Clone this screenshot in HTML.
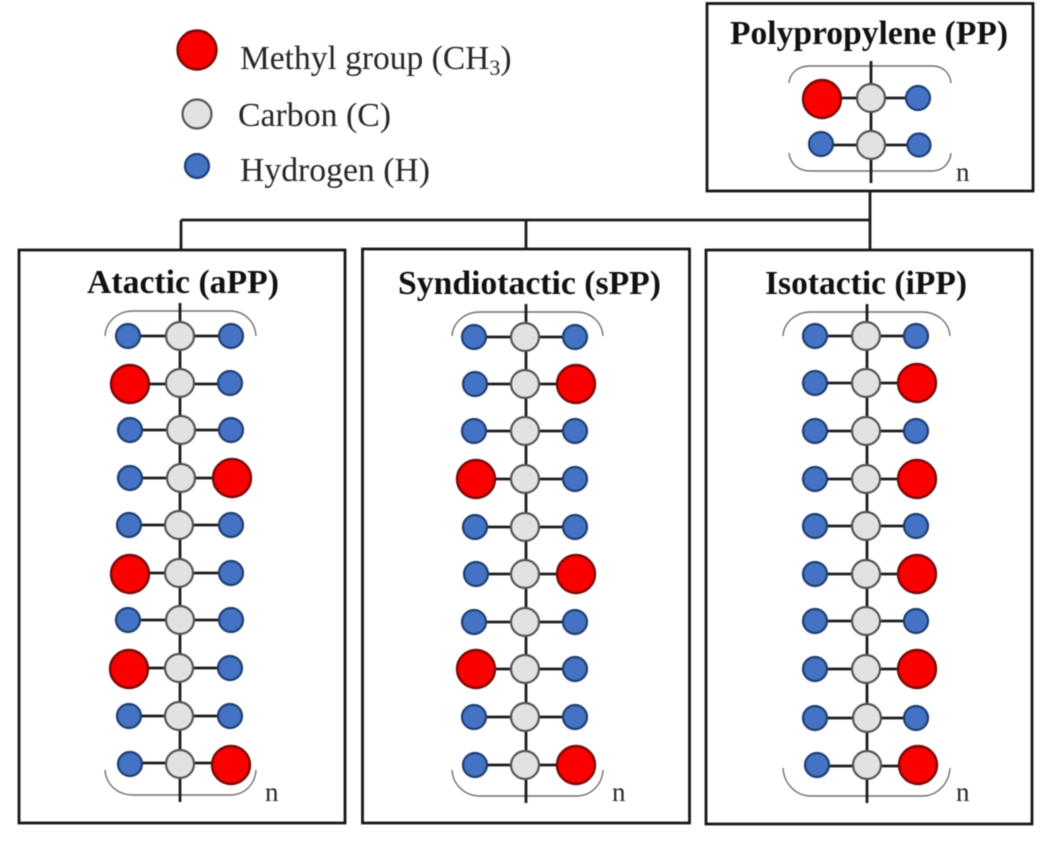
<!DOCTYPE html>
<html>
<head>
<meta charset="utf-8">
<style>
html,body{margin:0;padding:0;background:#fff;width:1052px;height:842px;overflow:hidden}
svg{display:block;filter:blur(.5px)}
.box{fill:none;stroke:#161616;stroke-width:2.8}
.ln{stroke:#1c1c1c;stroke-width:2.8;fill:none}
.br{stroke:#6f6f6f;stroke-width:1.4;fill:none}
.H{fill:#4472c4;stroke:#1f3f72;stroke-width:2.2}
.C{fill:#e2e2e2;stroke:#555;stroke-width:2.2}
.M{fill:#fa0000;stroke:#7a0808;stroke-width:2.4}
text{font-family:"Liberation Serif",serif;fill:#1a1a1a}
.t{font-weight:bold;font-size:33.5px;fill:#111}
.l{font-size:33.5px;fill:#262626}
.n{font-size:27px;fill:#2a2a2a}
</style>
</head>
<body>
<svg width="1052" height="842" viewBox="0 0 1052 842" xmlns="http://www.w3.org/2000/svg">
<!-- connectors -->
<path class="ln" d="M181 220H870M181 220V250M526 220V249M870 191V250"/>
<!-- boxes -->
<rect class="box" x="707" y="3.5" width="326" height="187.5"/>
<rect class="box" x="19" y="250" width="326" height="573"/>
<rect class="box" x="362.5" y="249" width="327" height="574"/>
<rect class="box" x="706" y="250" width="326" height="574"/>
<!-- titles -->
<text class="t" x="730" y="44" textLength="278" lengthAdjust="spacingAndGlyphs">Polypropylene (PP)</text>
<text class="t" x="87" y="293" textLength="192" lengthAdjust="spacingAndGlyphs">Atactic (aPP)</text>
<text class="t" x="398" y="294" textLength="263" lengthAdjust="spacingAndGlyphs">Syndiotactic (sPP)</text>
<text class="t" x="765" y="294" textLength="202" lengthAdjust="spacingAndGlyphs">Isotactic (iPP)</text>
<!-- legend -->
<circle class="M" cx="197" cy="50" r="19.5"/>
<circle class="C" cx="197" cy="114" r="14.5"/>
<circle class="H" cx="197" cy="166" r="12"/>
<text class="l" x="240" y="69">Methyl group (CH<tspan font-size="22" dy="6">3</tspan><tspan dy="-6">)</tspan></text>
<text class="l" x="238" y="126" textLength="153" lengthAdjust="spacingAndGlyphs">Carbon (C)</text>
<text class="l" x="240" y="181" textLength="190" lengthAdjust="spacingAndGlyphs">Hydrogen (H)</text>
<!-- top molecule -->
<path class="br" d="M789 83C790 72 799 66 810 66H932C942 66 950 72 951 83"/>
<path class="br" d="M789 153C790 164 799 171 810 171H932C942 171 950 164 951 153"/>
<path class="ln" d="M871 61V183M822 98H918M821 145H919"/>
<circle class="M" cx="822" cy="99" r="19"/><circle class="C" cx="871" cy="98" r="14"/><circle class="H" cx="918" cy="98" r="12"/>
<circle class="H" cx="821" cy="144" r="12"/><circle class="C" cx="871" cy="145" r="14"/><circle class="H" cx="919" cy="145" r="11.5"/>
<text class="n" x="956" y="181">n</text>
<!-- atactic -->
<path class="br" d="M105 336C106 321 118 311 133 311H230C244 311 255 321 256 336"/>
<path class="br" d="M105 770C106 785 118 795 133 795H230C244 795 255 785 256 770"/>
<path class="ln" d="M180 303V802M128 336H231M130 384H230M130 430H231M130 478H232M129 525H231M130 573H231M128 620H231M129 668H230M129 716H230M130 763H231"/>
<circle class="H" cx="128" cy="336" r="12"/><circle class="C" cx="180" cy="336" r="14"/><circle class="H" cx="231" cy="336" r="12"/>
<circle class="M" cx="130" cy="384" r="19"/><circle class="C" cx="180" cy="383" r="14"/><circle class="H" cx="230" cy="383" r="12"/>
<circle class="H" cx="130" cy="430" r="12"/><circle class="C" cx="181" cy="430" r="14"/><circle class="H" cx="231" cy="430" r="12"/>
<circle class="H" cx="130" cy="478" r="12"/><circle class="C" cx="181" cy="478" r="14"/><circle class="M" cx="232" cy="478" r="19"/>
<circle class="H" cx="129" cy="525" r="12"/><circle class="C" cx="179" cy="525" r="14"/><circle class="H" cx="231" cy="525" r="12"/>
<circle class="M" cx="130" cy="574" r="19"/><circle class="C" cx="179" cy="573" r="14"/><circle class="H" cx="231" cy="573" r="12"/>
<circle class="H" cx="128" cy="620" r="12"/><circle class="C" cx="180" cy="620" r="14"/><circle class="H" cx="231" cy="620" r="12"/>
<circle class="M" cx="129" cy="669" r="19"/><circle class="C" cx="179" cy="668" r="14"/><circle class="H" cx="230" cy="668" r="12"/>
<circle class="H" cx="129" cy="716" r="12"/><circle class="C" cx="179" cy="716" r="14"/><circle class="H" cx="230" cy="716" r="12"/>
<circle class="H" cx="130" cy="764" r="12"/><circle class="C" cx="180" cy="764" r="14"/><circle class="M" cx="231" cy="765" r="19"/>
<text class="n" x="265" y="801">n</text>
<!-- syndiotactic -->
<path class="br" d="M452 336C453 322 465 312 480 312H576C591 312 602 322 603 336"/>
<path class="br" d="M452 770C453 785 465 796 480 796H576C591 796 602 785 603 770"/>
<path class="ln" d="M526 304V803M474 337H575M475 384H576M474 431H575M476 479H575M475 527H575M476 574H576M474 622H575M476 669H575M474 717H575M475 765H576"/>
<circle class="H" cx="474" cy="337" r="12"/><circle class="C" cx="525" cy="337" r="14"/><circle class="H" cx="575" cy="337" r="12"/>
<circle class="H" cx="475" cy="384" r="12"/><circle class="C" cx="525" cy="384" r="14"/><circle class="M" cx="576" cy="384" r="19"/>
<circle class="H" cx="474" cy="431" r="12"/><circle class="C" cx="525" cy="431" r="14"/><circle class="H" cx="575" cy="431" r="12"/>
<circle class="M" cx="476" cy="479" r="19"/><circle class="C" cx="525" cy="479" r="14"/><circle class="H" cx="575" cy="479" r="12"/>
<circle class="H" cx="475" cy="527" r="12"/><circle class="C" cx="525" cy="527" r="14"/><circle class="H" cx="575" cy="527" r="12"/>
<circle class="H" cx="476" cy="574" r="12"/><circle class="C" cx="525" cy="574" r="14"/><circle class="M" cx="576" cy="574" r="19"/>
<circle class="H" cx="474" cy="622" r="12"/><circle class="C" cx="525" cy="622" r="14"/><circle class="H" cx="575" cy="622" r="12"/>
<circle class="M" cx="476" cy="669" r="19"/><circle class="C" cx="525" cy="669" r="14"/><circle class="H" cx="575" cy="669" r="12"/>
<circle class="H" cx="474" cy="717" r="12"/><circle class="C" cx="525" cy="717" r="14"/><circle class="H" cx="575" cy="717" r="12"/>
<circle class="H" cx="475" cy="765" r="12"/><circle class="C" cx="525" cy="765" r="14"/><circle class="M" cx="576" cy="765" r="19"/>
<text class="n" x="612" y="801">n</text>
<!-- isotactic -->
<path class="br" d="M783 336C784 322 796 312 811 312H922C937 312 949 322 950 336"/>
<path class="br" d="M783 768C784 784 796 796 811 796H922C937 796 949 784 950 768"/>
<path class="ln" d="M867 304V803M815 336H916M815 383H917M815 431H916M815 479H917M815 526H916M815 574H917M815 621H916M815 669H917M815 718H916M816 766H917"/>
<circle class="H" cx="815" cy="336" r="12"/><circle class="C" cx="866" cy="336" r="14"/><circle class="H" cx="916" cy="336" r="12"/>
<circle class="H" cx="815" cy="383" r="12"/><circle class="C" cx="866" cy="383" r="14"/><circle class="M" cx="917" cy="383" r="19"/>
<circle class="H" cx="815" cy="431" r="12"/><circle class="C" cx="866" cy="431" r="14"/><circle class="H" cx="916" cy="431" r="12"/>
<circle class="H" cx="815" cy="479" r="12"/><circle class="C" cx="866" cy="479" r="14"/><circle class="M" cx="917" cy="479" r="19"/>
<circle class="H" cx="815" cy="526" r="12"/><circle class="C" cx="866" cy="526" r="14"/><circle class="H" cx="916" cy="526" r="12"/>
<circle class="H" cx="815" cy="574" r="12"/><circle class="C" cx="866" cy="574" r="14"/><circle class="M" cx="917" cy="574" r="19"/>
<circle class="H" cx="815" cy="621" r="12"/><circle class="C" cx="866" cy="621" r="14"/><circle class="H" cx="916" cy="621" r="12"/>
<circle class="H" cx="815" cy="669" r="12"/><circle class="C" cx="866" cy="669" r="14"/><circle class="M" cx="917" cy="669" r="19"/>
<circle class="H" cx="815" cy="718" r="12"/><circle class="C" cx="867" cy="718" r="14"/><circle class="H" cx="916" cy="718" r="12"/>
<circle class="H" cx="817" cy="765" r="12"/><circle class="C" cx="867" cy="765" r="14"/><circle class="M" cx="918" cy="765" r="19"/>
<text class="n" x="956" y="801">n</text>
</svg>
</body>
</html>
